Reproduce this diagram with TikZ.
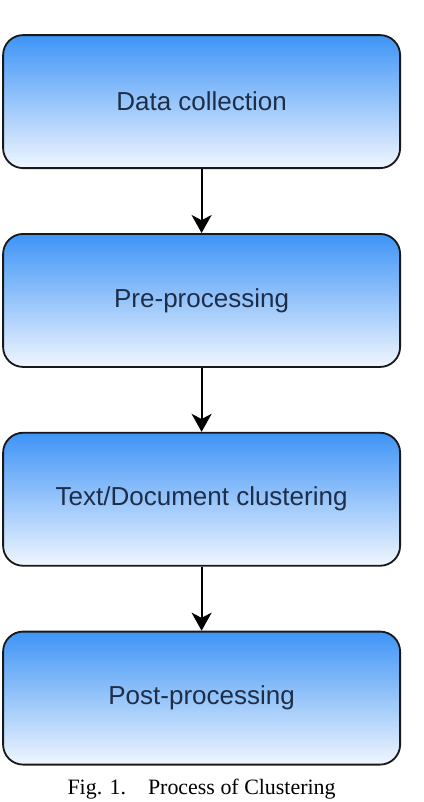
\documentclass[tikz,border=0pt]{standalone}
\usepackage{fontspec}
\setmainfont{Liberation Serif}
\newfontfamily\boxfont{Liberation Sans}
\usepackage{tikz}
\usetikzlibrary{arrows.meta,positioning}
\definecolor{boxtop}{RGB}{62,148,246}
\definecolor{boxbot}{RGB}{240,246,254}
\definecolor{boxtext}{RGB}{30,46,72}
\definecolor{boxline}{RGB}{25,25,25}

\begin{document}
\begin{tikzpicture}[node distance=1.6cm,
stage/.style={draw=boxline,line width=1.3pt,rounded corners=0.5cm,
top color=boxtop,bottom color=boxbot,minimum width=9.925cm,
minimum height=3.325cm,text=boxtext,font=\boxfont\fontsize{18.5}{22}\selectfont},
flow/.style={-{Stealth[length=4.5mm,width=5mm,inset=1.3mm]},line width=1.4pt}]
\useasboundingbox (0,0) rectangle (10.6,-20.05);
\node[stage] (dc) at (5.04,-2.54){Data collection};
\node[below=of dc,stage] (pre){Pre-processing};
\node[below=of pre,stage] (clu){Text/Document clustering};
\node[below=of clu,stage] (post){Post-processing};
\node[below=0.72cm of post.south,anchor=base,inner sep=0pt,
font=\fontsize{15.6}{18}\selectfont] (cap){Fig. 1.\hspace{0.55cm}Process of Clustering};
\draw[flow] (dc)--(pre);
\draw[flow] (pre)--(clu);
\draw[flow] (clu)--(post);
\end{tikzpicture}
\end{document}
